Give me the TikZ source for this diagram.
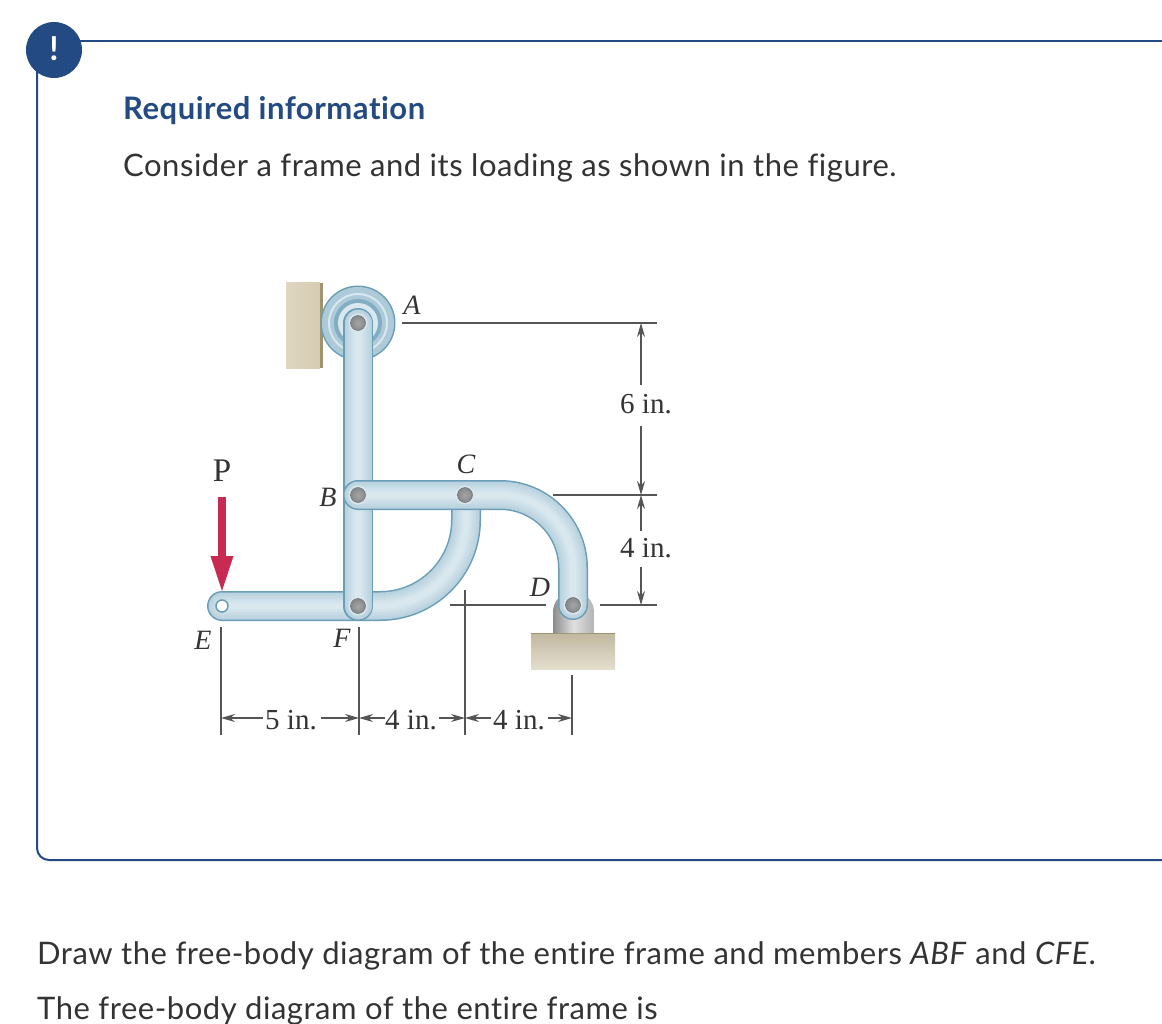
\documentclass[tikz,border=0pt]{standalone}
\usepackage{fontspec}
\setmainfont[LetterSpace=1.7,Ligatures={NoCommon}]{Lato}
\newfontfamily\figfont{Liberation Serif}
\usetikzlibrary{arrows.meta,shadings}
\definecolor{navy}{HTML}{234A82}
\definecolor{bodytext}{HTML}{333333}
\definecolor{edgeblue}{HTML}{6A9DB6}
\definecolor{steel}{HTML}{B9D2DF}
\definecolor{steellight}{HTML}{D9E7EE}
\definecolor{tan}{HTML}{D6CCB2}
\definecolor{tandark}{HTML}{A0946F}
\definecolor{crimson}{HTML}{C92A52}
\definecolor{dimgray}{HTML}{555555}
\definecolor{pingray}{HTML}{85888B}
\newcommand{\member}[1]{%
  \draw[edgeblue,line width=30pt,line cap=round] #1;
  \foreach \w/\m in {27/0,24/14,21/28,18/42,15/56,12/70,9/84,6/100}{
    \draw[steellight!\m!steel,line width=\w pt,line cap=round] #1;
  }
}
\newcommand{\pin}[1]{%
  \fill[steellight] #1 circle[radius=9.5pt];
  \shade[inner color=black!35,outer color=pingray,draw=black!55,line width=0.5pt] #1 circle[radius=7.5pt];
}
\tikzset{
  boxline/.style={navy,line width=2pt},
  dimline/.style={dimgray,line width=1.2pt},
  dimarrow/.style={dimgray,line width=1.2pt,-{Stealth[length=14pt,width=8pt]}},
  figlabel/.style={font=\figfont\itshape\fontsize{28}{30}\selectfont,text=black!80,inner sep=0pt},
  figdim/.style={font=\figfont\fontsize{29}{30}\selectfont,text=black!80,inner sep=0pt},
  maintext/.style={anchor=base west,inner sep=0pt,text=bodytext,font=\fontsize{31}{34}\selectfont},
}
\begin{document}
\begin{tikzpicture}[x=1pt,y=-1pt]
\useasboundingbox (0,0) rectangle (1162,1024);
\fill[white] (0,0) rectangle (1162,1024);
% frame box
\draw[boxline] (1162,41) -- (54,41);
\draw[boxline] (37,50) -- (37,848) arc[start angle=180,end angle=270,radius=12pt] -- (1162,860);
\fill[navy] (54,50) circle[radius=28pt];
\node[inner sep=0pt,text=white,font=\bfseries\fontsize{33}{33}\selectfont] (bang) at (54,49) {!};
% text
\node[maintext,text=navy,font=\bfseries\fontsize{31}{34}\selectfont] (req) at (123,120) {Required information};
\node[maintext] (cons) at (123,177) {Consider a frame and its loading as shown in the figure.};
\node[maintext] (draw) at (37,964) {Draw the free-body diagram of the entire frame and members \textit{ABF} and \textit{CFE}.};
\node[maintext] (the) at (37,1019) {The free-body diagram of the entire frame is};
% key points
\coordinate (A) at (358,323);
\coordinate (B) at (358,495);
\coordinate (C) at (465,495);
\coordinate (D) at (573,605);
\coordinate (E) at (222,606);
\coordinate (F) at (358,606);
% wall
\shade[left color=tan!80!white,right color=tan] (286,283) rectangle (320,368);
\fill[tandark] (320,283) rectangle (322.5,368);
% base and bracket
\shade[top color=tan!90!black,bottom color=tan!65!white] (531,633) rectangle (615,669);
\draw[tandark,line width=1pt] (531,633) -- (615,633);
\shade[left color=black!45,right color=black!30,middle color=black!12]
  (553,633) -- (553,612) arc[start angle=180,end angle=0,radius=20.5pt] -- (594,633) -- cycle;
% pulley
\fill[edgeblue] (A) circle[radius=37.5pt];
\fill[steel!85!edgeblue] (A) circle[radius=36pt];
\draw[steellight,line width=2pt] (A) circle[radius=29pt];
\fill[edgeblue!70!steel] (A) circle[radius=24pt];
\fill[steellight] (A) circle[radius=20pt];
% member C-F-E
\member{(E) -- (380,606) arc[start angle=-90,end angle=0,radius=86pt] -- (466,495)}
% member A-B-F
\member{(A) -- (F)}
% member B-C-D
\member{(B) -- (500,495) arc[start angle=90,end angle=0,radius=73pt] -- (D)}
% pins
\pin{(A)}\pin{(B)}\pin{(C)}\pin{(D)}\pin{(F)}
\fill[white,draw=edgeblue,line width=1.5pt] (E) circle[radius=6pt];
% load P
\coordinate (Ptop) at (222,497);
\coordinate (Phead) at (222,556);
\coordinate (Ptip) at (222,591);
\draw[crimson,line width=7.5pt] (Ptop) -- (Phead);
\fill[crimson] (210.5,556) -- (233.5,556) -- (Ptip) -- cycle;
\node[figdim,font=\figfont\fontsize{33}{34}\selectfont] (P) at (222,471) {P};
% labels
\node[figlabel] (lA) at (412,305) {A};
\node[figlabel] (lB) at (328,497) {B};
\node[figlabel] (lC) at (466,464) {C};
\node[figlabel] (lD) at (540,587) {D};
\node[figlabel] (lE) at (203,640) {E};
\node[figlabel] (lF) at (342,638) {F};
% extension lines
\coordinate (a1) at (402,323); \coordinate (a2) at (657,323);
\coordinate (b1) at (553,495); \coordinate (b2) at (657,495);
\coordinate (d1) at (450,605); \coordinate (d2) at (546,605);
\coordinate (d3) at (600,605); \coordinate (d4) at (657,605);
\draw[dimline] (a1) -- (a2);
\draw[dimline] (b1) -- (b2);
\draw[dimline] (d1) -- (d2);
\draw[dimline] (d3) -- (d4);
\coordinate (e1) at (221,627); \coordinate (e2) at (221,735);
\coordinate (f1) at (359,627); \coordinate (f2) at (359,735);
\coordinate (g1) at (465,590); \coordinate (g2) at (465,735);
\coordinate (h1) at (572,675); \coordinate (h2) at (572,735);
\draw[dimline] (e1) -- (e2);
\draw[dimline] (f1) -- (f2);
\draw[dimline] (g1) -- (g2);
\draw[dimline] (h1) -- (h2);
% vertical dimensions
\node[figdim] (six) at (646,404) {6 in.};
\node[figdim] (fourv) at (646,548) {4 in.};
\coordinate (va) at (641,323); \coordinate (vb) at (641,495); \coordinate (vd) at (641,605);
\draw[dimarrow] (641,385) -- (va);
\draw[dimarrow] (641,426) -- (vb);
\draw[dimarrow] (641,531) -- (vb);
\draw[dimarrow] (641,567) -- (vd);
% horizontal dimensions
\node[figdim] (five) at (291,720) {5 in.};
\node[figdim] (fourh1) at (411,720) {4 in.};
\node[figdim] (fourh2) at (519,720) {4 in.};
\coordinate (de) at (221,718); \coordinate (df) at (359,718);
\coordinate (dg) at (465,718); \coordinate (dh) at (572,718);
\draw[dimarrow] (263,718) -- (de);
\draw[dimarrow] (321,718) -- (df);
\draw[dimarrow] (385,718) -- (df);
\draw[dimarrow] (439,718) -- (dg);
\draw[dimarrow] (491,718) -- (dg);
\draw[dimarrow] (548,718) -- (dh);
\end{tikzpicture}
\end{document}
